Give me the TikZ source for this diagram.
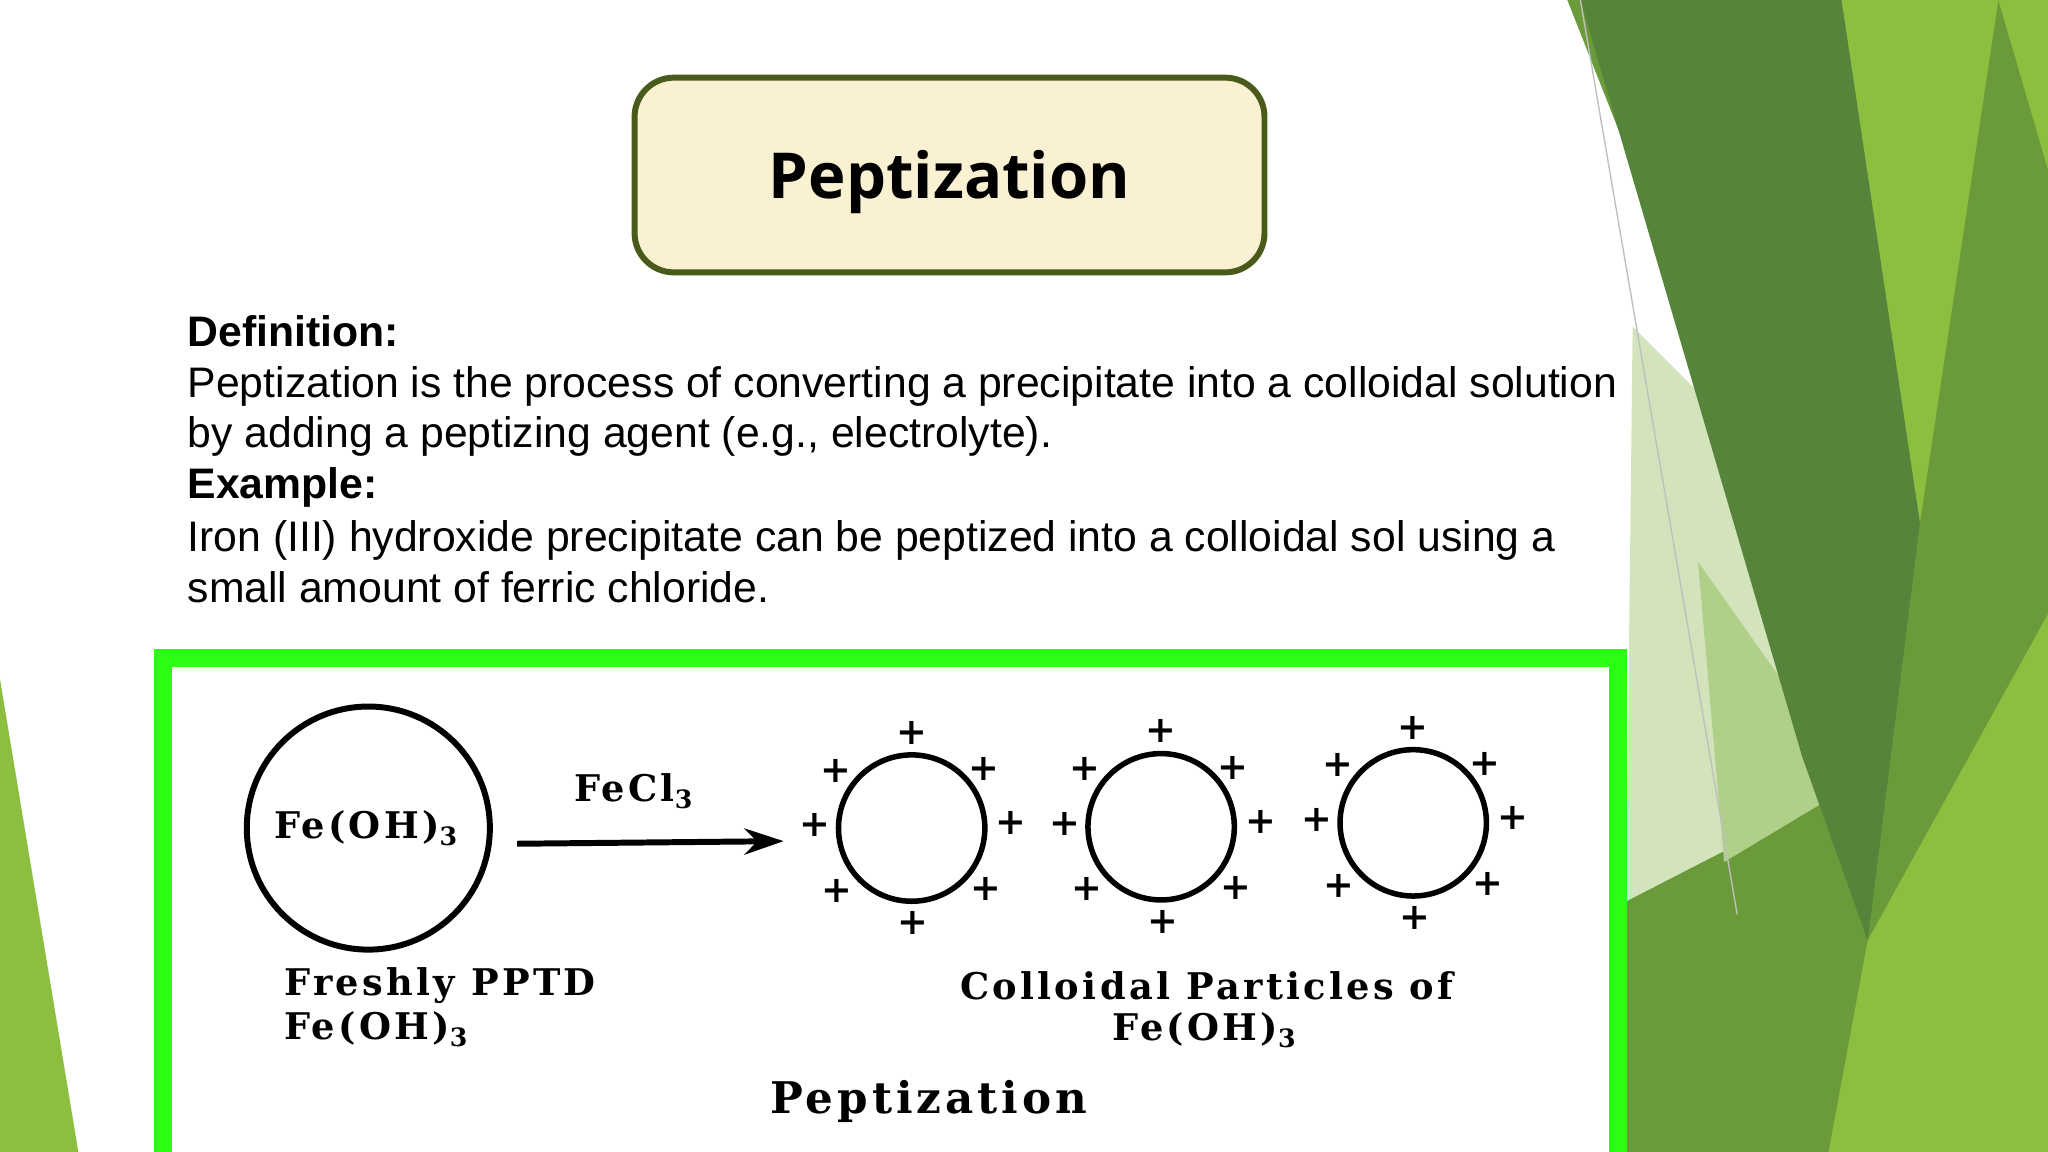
\documentclass[tikz,border=0pt]{standalone}
\usepackage{fontspec}
\setmainfont{Liberation Sans}
\newfontfamily\titlefont{Open Sans}
\newfontfamily\oldserif[LetterSpace=9]{DejaVu Serif}
\usetikzlibrary{arrows.meta}
\definecolor{gA}{HTML}{6A9A3A}
\definecolor{gB}{HTML}{56843A}
\definecolor{gC}{HTML}{8CBF3F}
\definecolor{gD}{HTML}{D3E4BC}
\definecolor{gE}{HTML}{B0D08A}
\definecolor{frame}{HTML}{2BFF13}
\definecolor{titlefill}{HTML}{FAF0D2}
\definecolor{titleline}{HTML}{4A5A1A}
\newcommand{\sbt}{\raisebox{-0.35ex}{\fontsize{5.5pt}{6pt}\selectfont 3}}
\tikzset{
 body/.style={anchor=base west,inner sep=0pt,font=\fontsize{9.3pt}{10pt}\selectfont},
 dtext/.style={inner sep=0pt,font=\oldserif\bfseries\fontsize{8pt}{9pt}\selectfont},
 plus/.style={inner sep=0pt,font=\oldserif\bfseries\fontsize{8pt}{8pt}\selectfont},
 bigc/.style={circle,draw,line width=1.3pt,minimum size=1.86cm,inner sep=0pt},
 smallc/.style={circle,draw,line width=1.2pt,minimum size=1.12cm,inner sep=0pt},
}
\begin{document}
\begin{tikzpicture}[x=0.01cm,y=-0.01cm]
\useasboundingbox (0,0) rectangle (1568,882);
\clip (0,0) rectangle (1568,882);
% decoration
\fill[gC] (0,520) -- (60,882) -- (0,882) -- cycle;
\fill[gA] (1200,0) -- (1568,0) -- (1568,882) -- (1245,882) -- (1245,690) -- (1420,600) -- (1330,330) -- cycle;
\fill[gD] (1250,250) -- (1330,330) -- (1420,600) -- (1245,690) -- cycle;
\fill[gE] (1300,430) -- (1420,600) -- (1320,660) -- cycle;
\fill[gB] (1210,0) -- (1410,0) -- (1470,400) -- (1430,720) -- (1380,580) -- cycle;
\fill[gC] (1410,0) -- (1530,0) -- (1470,400) -- cycle;
\fill[gC] (1530,0) -- (1568,0) -- (1568,130) -- cycle;
\fill[gC] (1430,720) -- (1568,470) -- (1568,882) -- (1400,882) -- cycle;
\draw[gray!50,line width=0.3pt] (1210,0) -- (1330,700);
% title
\node[draw=titleline,line width=1.3pt,fill=titlefill,rounded corners=0.3cm,minimum width=4.82cm,minimum height=1.49cm] (title) at (727,134) {};
\node[font=\titlefont\bfseries\fontsize{13.8pt}{16pt}\selectfont,inner sep=0pt] (titletext) at (727,139) {Peptization};
% text
\node[body,font=\bfseries\fontsize{9.3pt}{10pt}\selectfont] (t1) at (143,265) {Definition:};
\node[body] (t2) at (143,304) {Peptization is the process of converting a precipitate into a colloidal solution};
\node[body] (t3) at (143,343) {by adding a peptizing agent (e.g., electrolyte).};
\node[body,font=\bfseries\fontsize{9.3pt}{10pt}\selectfont] (t4) at (143,382) {Example:};
\node[body] (t5) at (143,422) {Iron (III) hydroxide precipitate can be peptized into a colloidal sol using a};
\node[body] (t6) at (143,461) {small amount of ferric chloride.};
% frame
\fill[white] (125,504) rectangle (1239,900);
\draw[frame,line width=0.14cm] (125,504) rectangle (1239,920);
% diagram
\node[bigc] (big) at (282,634) {};
\node[dtext] (bigl) at (280,634) {Fe(OH)\sbt};
\coordinate (as) at (396,646);
\coordinate (ae) at (600,644);
\draw[line width=1.3pt,-{Stealth[length=0.3cm,width=0.2cm]}] (as) -- (ae);
\node[dtext] (fecl) at (485,606) {FeCl\sbt};
\foreach \n/\cx/\cy in {p1/698/634,p2/889/633,p3/1082/630}{
  \node[smallc] (\n) at (\cx,\cy) {};
  \foreach \dx/\dy in {0/-73,55/-45,76/-4,57/47,1/73,-57/48,-74/-2,-58/-44}
    \node[plus] at (\cx+\dx,\cy+\dy) {+};
}
\node[dtext,anchor=west] (fr1) at (217,755) {Freshly PPTD};
\node[dtext,anchor=west] (fr2) at (217,788) {Fe(OH)\sbt};
\node[dtext] (cp1) at (924,755) {Colloidal Particles of};
\node[dtext] (cp2) at (922,789) {Fe(OH)\sbt};
\node[dtext,font=\oldserif\bfseries\fontsize{9.5pt}{10pt}\selectfont] (pep) at (711,843) {Peptization};
\end{tikzpicture}
\end{document}
